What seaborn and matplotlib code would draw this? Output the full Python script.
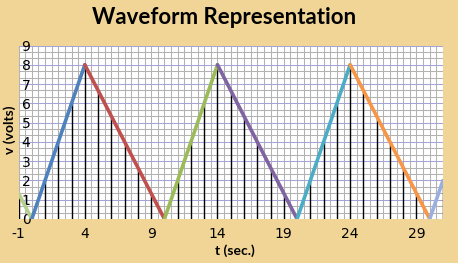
import numpy as np
import pandas as pd
import matplotlib
matplotlib.use("Agg")
import matplotlib.pyplot as plt
import seaborn as sns

# ---- data ----
t_values = [-1, 0, 1, 2, 3, 4, 5, 6, 7, 8, 9, 10, 11, 12, 13, 14, 15, 16, 17, 18,
            19, 20, 21, 22, 23, 24, 25, 26, 27, 28, 29, 30, 31]
v_values = [1.333, 0, 2, 4, 6, 8, 6.667, 5.333, 4, 2.667, 1.333, 0, 2, 4, 6, 8,
            6.667, 5.333, 4, 2.667, 1.333, 0, 2, 4, 6, 8, 6.667, 5.333, 4, 2.667,
            1.333, 0, 2]
segment_breaks = [-1, 0, 4, 10, 14, 20, 24, 30, 31]
segment_colors = ["#B5CF8E", "#4F81BD", "#C0504D", "#9BBB59", "#8064A2",
                  "#4BACC6", "#F79646", "#9AAEE0"]
x_tick_labels = [-1, 4, 9, 14, 19, 24, 29]
y_tick_labels = [0, 1, 2, 3, 4, 5, 6, 7, 8, 9]

# ---- build segment table ----
rows = []
for i in range(len(segment_breaks) - 1):
    a, b = segment_breaks[i], segment_breaks[i + 1]
    for tt, vv in zip(t_values, v_values):
        if a <= tt <= b:
            rows.append({"t": tt, "v": vv, "seg": f"s{i}"})
df = pd.DataFrame(rows)
palette = {f"s{i}": c for i, c in enumerate(segment_colors)}

sns.set_theme(style="white")
plt.rcParams["font.family"] = ["DejaVu Sans"]

W, H = 458, 263
fig = plt.figure(figsize=(W / 100, H / 100), dpi=100)
fig.patch.set_facecolor("#F1D597")

left, right, top, bottom = 18.5, 443, 45.5, 219
ax = fig.add_axes([left / W, 1 - bottom / H, (right - left) / W, (bottom - top) / H])
ax.set_facecolor("white")

ax.set_xlim(-1, 31)
ax.set_ylim(0, 9)

# grid
ax.set_xticks(x_tick_labels)
ax.set_xticklabels([str(x) for x in x_tick_labels])
ax.set_xticks(np.arange(-1, 31.01, 0.5), minor=True)
ax.set_yticks(y_tick_labels)
ax.set_yticklabels([str(y) for y in y_tick_labels])
ax.set_yticks(np.arange(0, 9.01, 1 / 3), minor=True)
ax.grid(True, which="minor", axis="both", color="#B2B2B2", lw=0.75, zorder=0)
ax.grid(True, which="major", axis="x", color="#B2B2B2", lw=0.75, zorder=0)
ax.grid(True, which="major", axis="y", color="#A4A4D8", lw=0.75, zorder=0)
ax.set_axisbelow(True)

# drop lines
ax.vlines(t_values, 0, v_values, color="black", lw=1.0, zorder=2)

sns.lineplot(data=df, x="t", y="v", hue="seg", palette=palette, legend=False,
             sort=False, estimator=None, lw=2.6, ax=ax, zorder=3)

ax.set_xlabel("")
ax.set_ylabel("")
for s in ax.spines.values():
    s.set_visible(False)
ax.spines["left"].set_position(("data", 0))
ax.tick_params(axis="both", which="both", length=0)
ax.tick_params(axis="x", pad=6, labelsize=10, colors="black")
ax.tick_params(axis="y", pad=1, labelsize=10, colors="black")
for lbl in ax.get_yticklabels():
    lbl.set_zorder(5)

fig.text(224 / W, 1 - 17 / H, "Waveform Representation", ha="center", va="center",
         fontsize=16, fontweight="bold", family=["Lato", "DejaVu Sans"], color="black")
fig.text(235 / W, 1 - 251 / H, "t (sec.)", ha="center", va="center",
         fontsize=10, fontweight="bold", family=["Lato", "DejaVu Sans"], color="black")
fig.text(10 / W, 1 - 130 / H, "v (volts)", ha="center", va="center", rotation=90,
         fontsize=10, fontweight="bold", family=["Lato", "DejaVu Sans"], color="black")

fig.savefig("out.png", dpi=100, facecolor=fig.get_facecolor())
